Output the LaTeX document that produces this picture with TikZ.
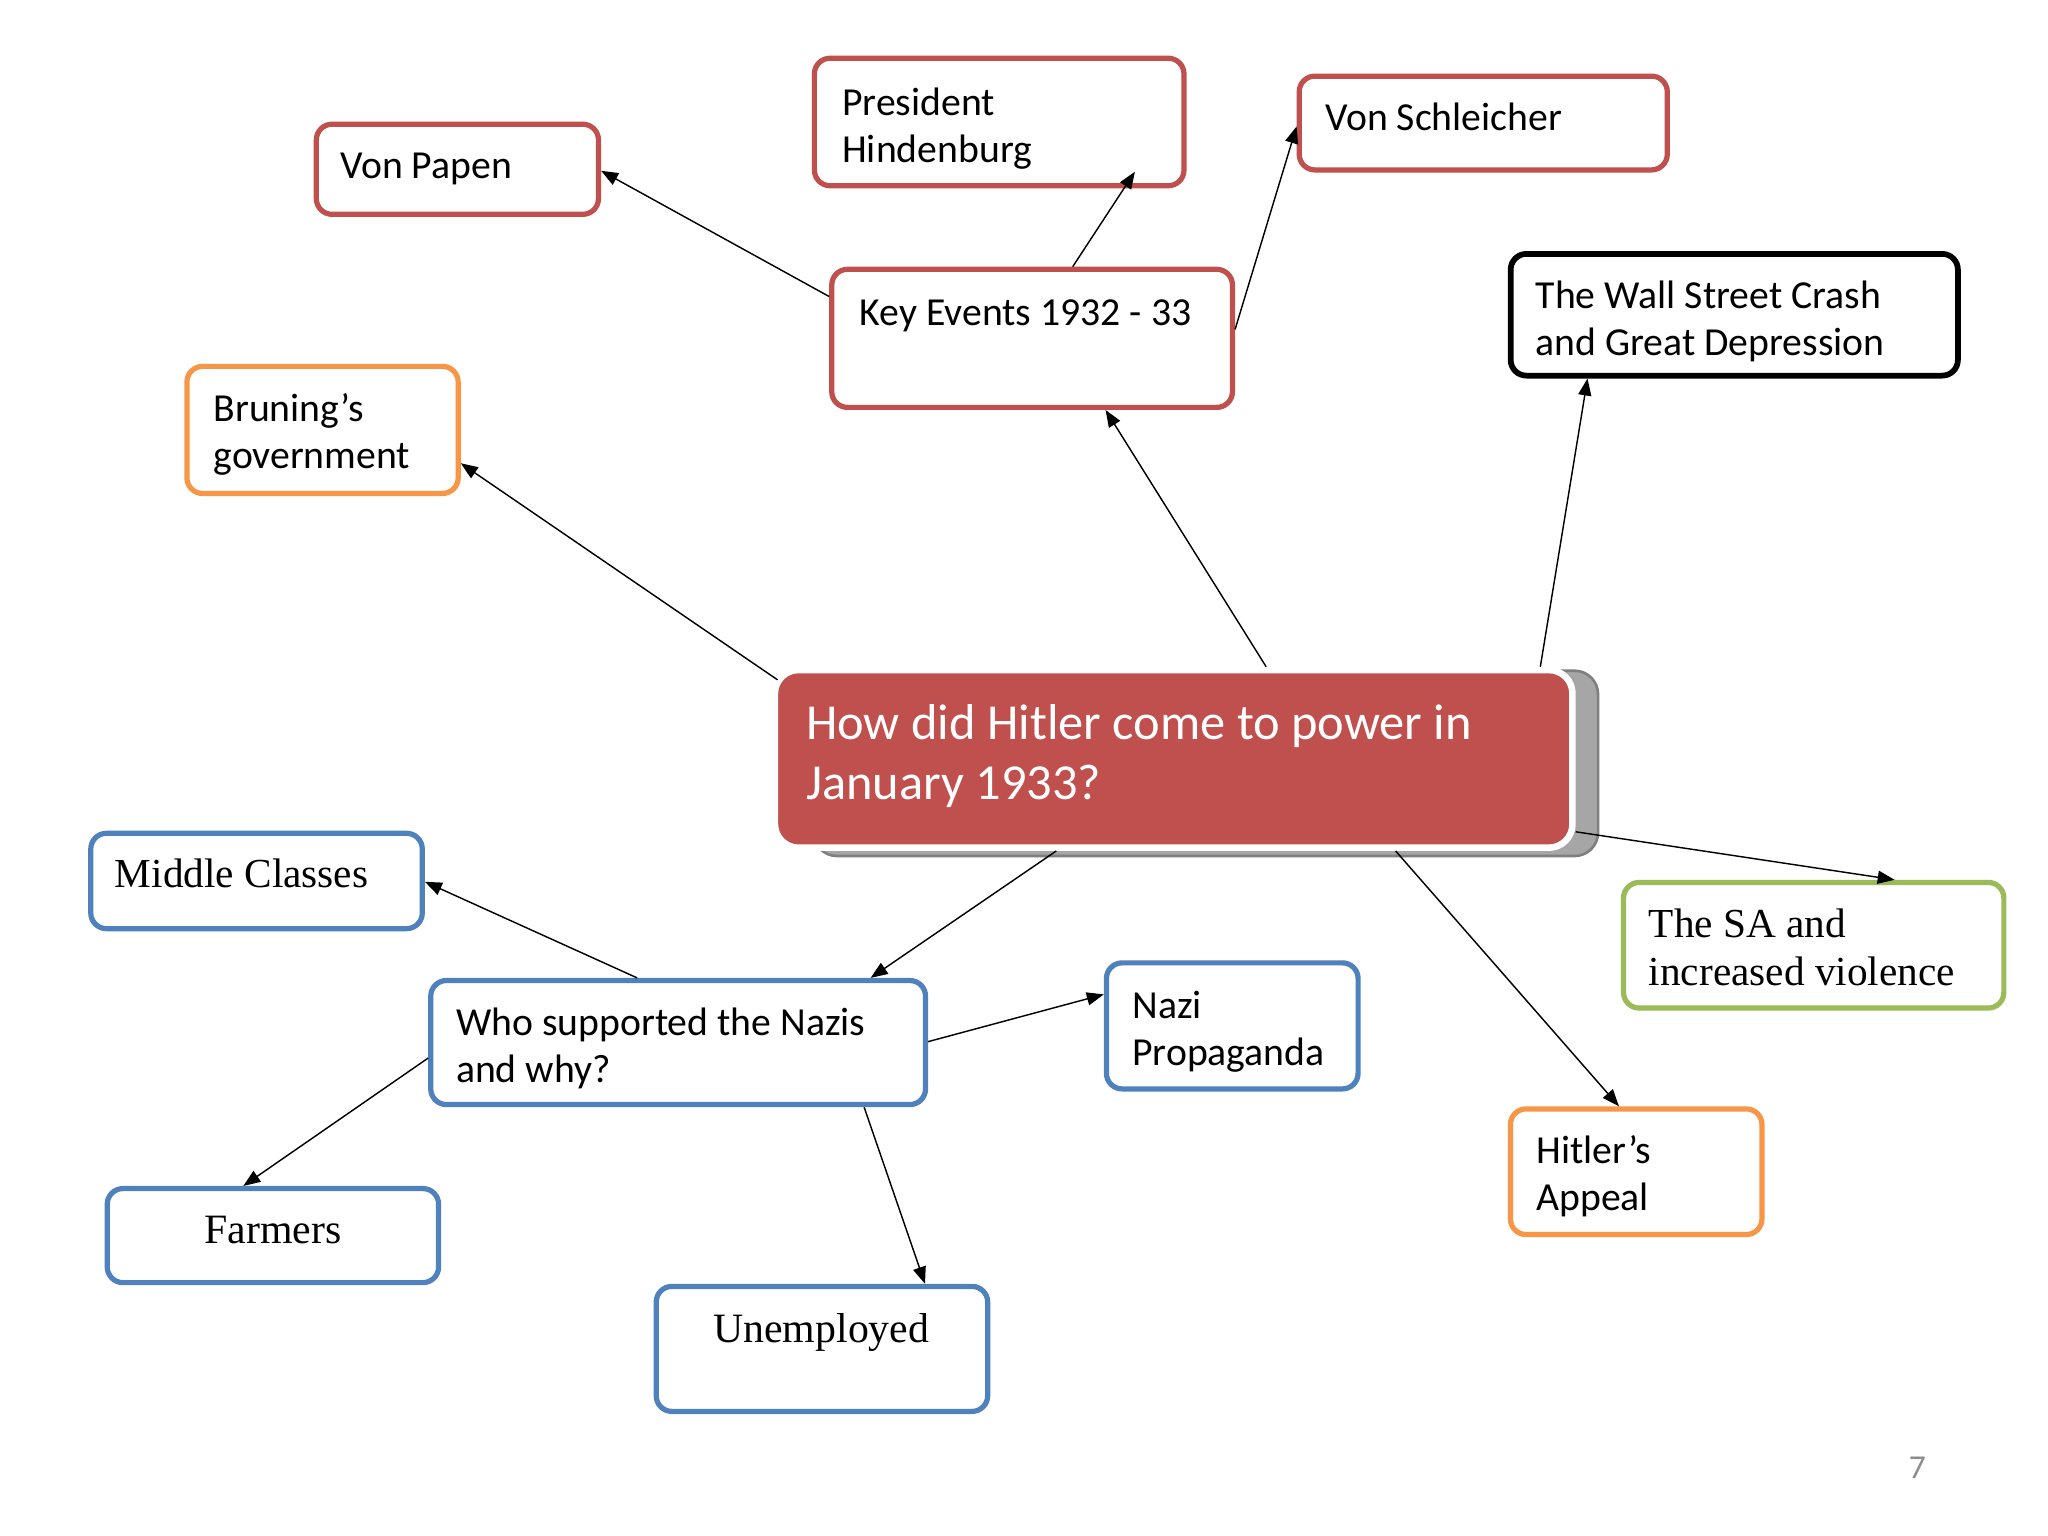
\documentclass[tikz,border=0pt]{standalone}
\usepackage{fontspec}
\setmainfont{Carlito}
\newfontfamily\serifx{Liberation Serif}
\usetikzlibrary{arrows.meta,calc}
\definecolor{cred}{HTML}{C0504D}
\definecolor{cblue}{HTML}{4F81BD}
\definecolor{corange}{HTML}{F79646}
\definecolor{cgreen}{HTML}{9BBB59}
\definecolor{cshadow}{HTML}{A6A6A6}
\definecolor{cshadowd}{HTML}{7F7F7F}
\definecolor{cpage}{HTML}{8C8C8C}
\begin{document}
\begin{tikzpicture}[x=0.5pt,y=-0.5pt,
  box/.style={draw, line width=2pt, rounded corners=6pt, fill=white, inner sep=0pt, anchor=north west},
  sz/.style 2 args={minimum width=#1*0.5pt, minimum height=#2*0.5pt},
  lbl/.style={inner sep=0pt, anchor=north west, align=left, font=\fontsize{15.2}{18}\selectfont},
  slbl/.style={inner sep=0pt, anchor=north west, align=left, font=\serifx\fontsize{15.8}{18.2}\selectfont},
  sclbl/.style={inner sep=0pt, anchor=north, align=center, font=\serifx\fontsize{16}{18.2}\selectfont},
  arr/.style={line width=0.55pt, -{Triangle[length=6.5pt,width=5pt]}},
]
\fill[white] (0,0) rectangle (1568,1176);
\useasboundingbox (0,0) rectangle (1568,1176);

% boxes
\node[box, draw=cred, sz={216}{69}]      (pap) at (240.2,93.1) {};
\node[box, draw=cred, sz={283}{97.6}]    (hin) at (621.5,42.6) {};
\node[box, draw=cred, sz={281.8}{71.8}]  (sch) at (992.7,56.3) {};
\node[box, draw=cred, sz={306.8}{105.7}] (ke)  at (634.8,204.2) {};
\node[box, draw=black, line width=2.2pt, sz={342.4}{93.2}] (wsc) at (1154.4,192.2) {};
\node[box, draw=corange, sz={207.7}{97.3}] (bru) at (141.1,278.5) {};
\node[box, draw=cblue, sz={253.8}{73}]   (mid) at (67.5,636) {};
\node[box, draw=cblue, sz={378.8}{95}]   (who) at (327.8,748.7) {};
\node[box, draw=cblue, sz={253.7}{72}]   (far) at (80.1,908) {};
\node[box, draw=cblue, sz={253.8}{95.7}] (une) at (500.4,982.9) {};
\node[box, draw=cblue, sz={192.7}{96.5}] (naz) at (845.1,735.2) {};
\node[box, draw=cgreen, sz={291.2}{96.2}] (sa) at (1241,673.6) {};
\node[box, draw=corange, sz={192.6}{96.2}] (hit) at (1154.4,847) {};

% shadow of the central box
\node[draw=cshadowd, fill=cshadow, line width=1pt, rounded corners=9pt, inner sep=0pt,
      anchor=north west, sz={600.7}{141.9}] (shd) at (621.8,512.5) {};

% central box
\node[draw=white, fill=cred, line width=2.5pt, rounded corners=9pt, inner sep=0pt,
      anchor=north west, sz={610.6}{136}] (cen) at (590.8,510.5) {};

% connectors
\draw[arr] ($(ke.north west)!0.208!(ke.south west)$) -- ($(pap.north east)!0.516!(pap.south east)$);
\draw[arr] ($(ke.north west)!0.6!(ke.north east)$) -- ($(hin.south west)!0.862!(hin.south east)+(0,-12.7)$);
\draw[arr] ($(ke.north east)!0.4375!(ke.south east)$) -- ($(sch.north west)!0.534!(sch.south west)$);
\draw[arr] ($(cen.north west)!0.615!(cen.north east)$) -- ($(ke.south west)!0.681!(ke.south east)$);
\draw[arr] ($(cen.north west)!0.956!(cen.north east)$) -- ($(wsc.south west)!0.176!(wsc.south east)$);
\draw[arr] ($(cen.north west)+(4.5,10)$) -- ($(bru.north east)!0.752!(bru.south east)$);
\draw[arr] ($(cen.north east)!0.896!(cen.south east)$) -- ($(sa.north west)!0.71!(sa.north east)$);
\draw[arr] ($(cen.south west)!0.776!(cen.south east)$) -- ($(hit.north west)!0.433!(hit.north east)$);
\draw[arr] ($(cen.south west)!0.354!(cen.south east)$) -- ($(who.north west)!0.885!(who.north east)$);
\draw[arr] ($(who.north west)!0.418!(who.north east)$) -- ($(mid.north east)!0.508!(mid.south east)$);
\draw[arr] ($(who.north east)!0.493!(who.south east)$) -- ($(naz.north west)!0.26!(naz.south west)$);
\draw[arr] ($(who.north west)!0.62!(who.south west)$) -- ($(far.north west)!0.412!(far.north east)$);
\draw[arr] ($(who.south west)!0.872!(who.south east)$) -- ($(une.north west)!0.806!(une.north east)$);

% texts
\node[lbl] (pap-t) at (260.2,109.9) {\rule{0pt}{13pt}Von Papen};
\node[lbl] (hin-t) at (644.4,62) {\rule{0pt}{13pt}President\\Hindenburg};
\node[lbl] (sch-t) at (1014.2,73.5) {\rule{0pt}{13pt}Von Schleicher};
\node[lbl] (ke-t)  at (658,222.8) {\rule{0pt}{13pt}Key Events 1932 - 33};
\node[lbl] (wsc-t) at (1175.4,209.7) {\rule{0pt}{13pt}The Wall Street Crash\\and Great Depression};
\node[lbl] (bru-t) at (163.1,296) {\rule{0pt}{13pt}Bruning’s\\government};
\node[slbl] (mid-t) at (87.6,653.2) {\rule{0pt}{13pt}Middle Classes};
\node[lbl] (who-t) at (348.8,766.6) {\rule{0pt}{13pt}Who supported the Nazis\\and why?};
\node[sclbl] (far-t) at (209,925.3) {\rule{0pt}{13pt}Farmers};
\node[sclbl] (une-t) at (628.8,1001.2) {\rule{0pt}{13pt}Unemployed};
\node[lbl] (naz-t) at (866.6,753.5) {\rule{0pt}{13pt}Nazi\\Propaganda};
\node[slbl] (sa-t) at (1262,691.5) {\rule{0pt}{13pt}The SA and\\increased violence};
\node[lbl] (hit-t) at (1175.9,864.2) {\rule{0pt}{13pt}Hitler’s\\Appeal};
\node[inner sep=0pt, anchor=north west, align=left, text=white,
      font=\fontsize{19.3}{23}\selectfont] (cen-t) at (616.8,534)
      {\rule{0pt}{16pt}How did Hitler come to power in\\January 1933?};
\node[inner sep=0pt, anchor=base, text=cpage, font=\fontsize{12.8}{15}\selectfont] (pg) at (1468,1131.6) {7};
\end{tikzpicture}
\end{document}
